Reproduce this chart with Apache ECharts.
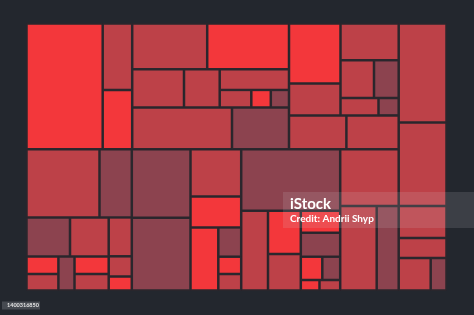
<!DOCTYPE html>
<html>
<head>
<meta charset="utf-8">
<script src="https://cdn.jsdelivr.net/npm/echarts@6/dist/echarts.min.js"></script>
<style>
html,body{margin:0;padding:0;background:#23272e;}
#chart{width:474px;height:315px;}
</style>
</head>
<body>
<div id="chart"></div>
<script>
// Cell values (area units) and shade keys: b = bright red, m = muted red, d = dusky mauve
const westValues = [9586, 1961.8, 1749.4];
const westShades = ['b', 'm', 'b'];

const centreValues = [3427.5, 3738.3, 1983.9, 1367.3, 1434.5, 556.2, 343.2, 320.3, 4171.6, 2382.6];
const centreShades = ['m', 'b', 'm', 'm', 'm', 'm', 'b', 'd', 'm', 'd'];

const eastValues = [3084.9, 1648, 2135.9, 1266.3, 933.7, 661.2, 351.5, 1945.9, 1773];
const eastShades = ['b', 'm', 'm', 'm', 'd', 'm', 'd', 'm', 'm'];

const lowerAValues = [4971.3, 2199.6, 1700.9, 1513.2, 558.3, 526.4, 547.4, 598.5, 564.3, 898.6, 466.6, 323.4];
const lowerAShades = ['m', 'd', 'd', 'm', 'b', 'm', 'd', 'b', 'm', 'm', 'm', 'b'];

const lowerBValues = [4015.1, 4273.4];
const lowerBShades = ['d', 'd'];

const lowerCValues = [2388, 1571.7, 1754.2, 671, 396.2, 377.9];
const lowerCShades = ['m', 'b', 'b', 'd', 'b', 'm'];

const lowerDValues = [6078.6, 2138.6, 1420.2, 1197.2, 870.7, 941.7, 501, 417.1, 196.4, 217.4];
const lowerDShades = ['d', 'm', 'b', 'm', 'b', 'd', 'b', 'd', 'b', 'm'];

const lowerEValues = [3316.95, 3084.25, 1859];
const lowerEShades = ['m', 'm', 'd'];

const sideValues = [4732.2, 3991.3, 1529.6, 956, 1040, 513.5];
const sideShades = ['m', 'm', 'm', 'm', 'm', 'd'];

const palette = { b: '#f3373b', m: '#bd4148', d: '#8c434f' };
const LINE = '#2b272d';

function leafOf(values, shades) {
  return function (i) {
    return {
      value: values[i],
      itemStyle: { color: palette[shades[i]], borderColor: LINE, borderWidth: 1.25 }
    };
  };
}
// hair-thin separator that makes the squarify step close the current row
function spacer() {
  return { value: 1e-6, itemStyle: { color: LINE, borderColor: LINE, borderWidth: 0 } };
}
const cut = (a, b) => ({ children: [a, spacer(), b] });
const row = (a, b) => ({ children: [a, b] });

const W = leafOf(westValues, westShades);
const C = leafOf(centreValues, centreShades);
const E = leafOf(eastValues, eastShades);
const LA = leafOf(lowerAValues, lowerAShades);
const LB = leafOf(lowerBValues, lowerBShades);
const LC = leafOf(lowerCValues, lowerCShades);
const LD = leafOf(lowerDValues, lowerDShades);
const LE = leafOf(lowerEValues, lowerEShades);
const S = leafOf(sideValues, sideShades);

const centre = row(
  cut(C(0), C(1)),
  row(
    cut(C(2), cut(C(3), row(C(4), cut(C(5), cut(C(6), C(7)))))),
    cut(C(8), C(9))
  )
);
const east = cut(
  cut(cut(E(0), E(1)), cut(E(2), row(cut(E(3), E(4)), cut(E(5), E(6))))),
  cut(E(7), E(8))
);
const upper = cut(W(0), cut(cut(W(1), W(2)), cut(centre, east)));

const lowerA = cut(
  cut(LA(0), LA(1)),
  cut(
    row(cut(LA(2), LA(3)), cut(cut(LA(4), LA(5)), cut(LA(6), row(LA(7), LA(8))))),
    cut(LA(9), cut(LA(10), LA(11)))
  )
);
const lowerB = cut(LB(0), LB(1));
const lowerC = cut(LC(0), cut(LC(1), row(LC(2), cut(LC(3), cut(LC(4), LC(5))))));
const lowerD = cut(LD(0), cut(LD(1), row(cut(LD(2), LD(3)),
  cut(LD(4), cut(LD(5), row(cut(LD(6), LD(7)), cut(LD(8), LD(9))))))));
const lowerE = cut(LE(0), row(LE(1), LE(2)));
const lower = cut(lowerA, cut(lowerB, cut(lowerC, cut(lowerD, lowerE))));

const side = cut(S(0), cut(S(1), cut(S(2), cut(S(3), cut(S(4), S(5))))));

const treeData = [row(upper, lower), spacer(), side];

const chart = echarts.init(document.getElementById('chart'));
chart.setOption({
  backgroundColor: '#23272e',
  animation: false,
  series: [{
    type: 'treemap',
    left: 26.5, top: 23.5, width: 420, height: 267,
    sort: false,
    squareRatio: 50,
    roam: false,
    nodeClick: false,
    silent: true,
    breadcrumb: { show: false },
    label: { show: false },
    upperLabel: { show: false },
    itemStyle: { borderWidth: 0, gapWidth: 0, borderColor: LINE },
    data: treeData
  }],
  graphic: [
    { type: 'rect', z: 100, shape: { x: 283, y: 192, width: 191, height: 36 },
      style: { fill: 'rgba(215,212,218,0.14)' } },
    { type: 'text', z: 101, x: 290, y: 204,
      style: { text: 'iStock', fill: '#ffffff', font: 'bold 15px Lato', verticalAlign: 'middle' } },
    { type: 'text', z: 101, x: 290, y: 218.5,
      style: { text: 'Credit: Andrii Shyp', fill: '#ffffff', font: 'bold 10px Lato', verticalAlign: 'middle' } },
    { type: 'rect', z: 100, shape: { x: 2, y: 301.5, width: 38, height: 8 },
      style: { fill: '#464a51' } },
    { type: 'text', z: 101, x: 7, y: 305.6,
      style: { text: '1400316850', fill: '#e6e6e6', font: 'bold 5.5px Lato', verticalAlign: 'middle' } }
  ]
});
</script>
</body>
</html>
